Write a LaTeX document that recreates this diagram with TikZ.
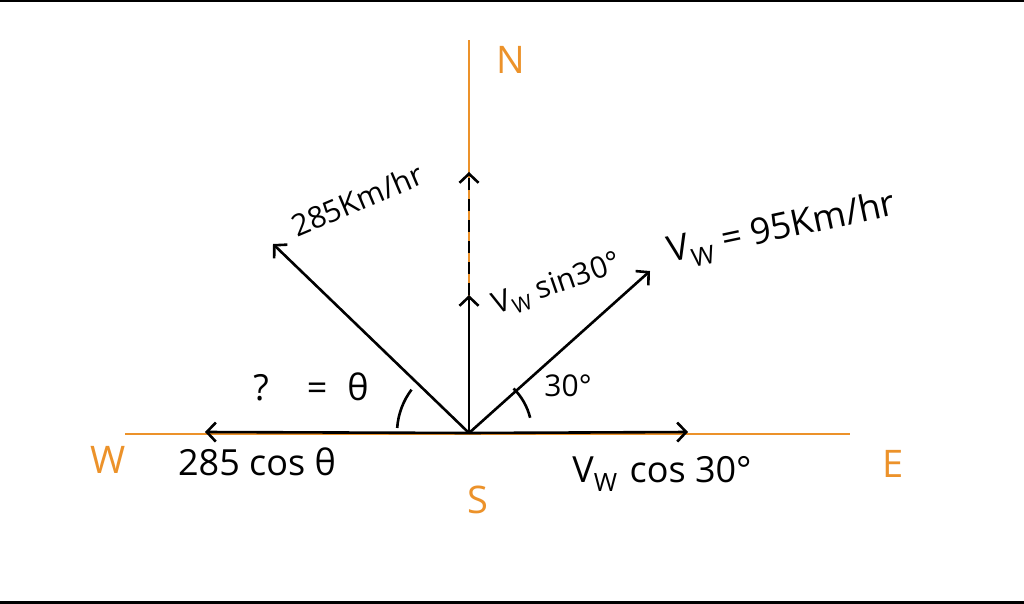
\documentclass[tikz,border=0pt]{standalone}
\usepackage{fontspec}
\setmainfont{Open Sans}
\usetikzlibrary{arrows.meta}
\definecolor{axisorange}{HTML}{EC922A}
\tikzset{
  axisline/.style={draw=axisorange, line width=2.4pt},
  vec/.style={draw=black, line width=2.6pt, -{Straight Barb[length=9pt,width=19pt,line width=2.6pt]}},
  anglearc/.style={draw=black, line width=2.6pt},
  dir/.style={text=axisorange, font=\fontsize{38}{42}\selectfont},
  lbl/.style={text=black, font=\fontsize{30}{34}\selectfont, inner sep=0pt},
  biglbl/.style={text=black, font=\fontsize{36}{40}\selectfont, inner sep=0pt},
}
\begin{document}
\begin{tikzpicture}[x=1pt,y=-1pt]
\useasboundingbox (0,0) rectangle (1024,604);
\fill[white] (0,0) rectangle (1024,604);
\fill[black] (0,0) rectangle (1024,2);
\fill[black] (0,601) rectangle (1024,604);
% axes
\coordinate (S) at (469,433);
\coordinate (Wend) at (125,434);
\coordinate (Eend) at (850,434);
\coordinate (Ntop) at (469,40);
\draw[axisline] (Wend) -- (Eend);
\draw[axisline] (S) -- (Ntop);
\node[dir] (Nlab) at (511,60) {N};
\node[dir] (Wlab) at (108,460) {W};
\node[dir] (Slab) at (478,500) {S};
\node[dir] (Elab) at (893,464) {E};
% vectors
\coordinate (Wtip) at (205,432);
\coordinate (Etip) at (688,432);
\coordinate (NWtip) at (273,244);
\coordinate (NEtip) at (650,271);
\coordinate (Vtip) at (469,295);
\coordinate (Dtip) at (469,172);
\draw[vec] (S) -- (Wtip);
\draw[vec] (S) -- (Etip);
\draw[vec] (S) -- (NWtip);
\draw[vec] (S) -- (NEtip);
\draw[vec] (S) -- (Vtip);
\draw[vec, dashed, dash pattern=on 12pt off 9pt] (Vtip) -- (Dtip);
% angle arcs
\draw[anglearc] (S) ++(-14:63) arc[start angle=-14, end angle=-45, radius=63];
\draw[anglearc] (S) ++(-143:72) arc[start angle=-143, end angle=-176, radius=72];
% labels
\node[lbl, rotate=23] (l285) at (357,200) {285Km/hr};
\node[lbl, rotate=19] (lsin) at (557,285) {V\textsubscript{W} sin30°};
\node[biglbl, rotate=12] (lvw) at (782,230) {V\textsubscript{W} = 95Km/hr};
\node[biglbl] (lq) at (311,387) {?\hspace{38pt}=\hspace{20pt}θ};
\node[biglbl] (lcosth) at (257,462) {285 cos θ};
\node[biglbl] (lcos30) at (662,474) {V\textsubscript{W}\hspace{12pt}cos 30°};
\node[lbl] (l30) at (568,386) {30°};
\end{tikzpicture}
\end{document}
